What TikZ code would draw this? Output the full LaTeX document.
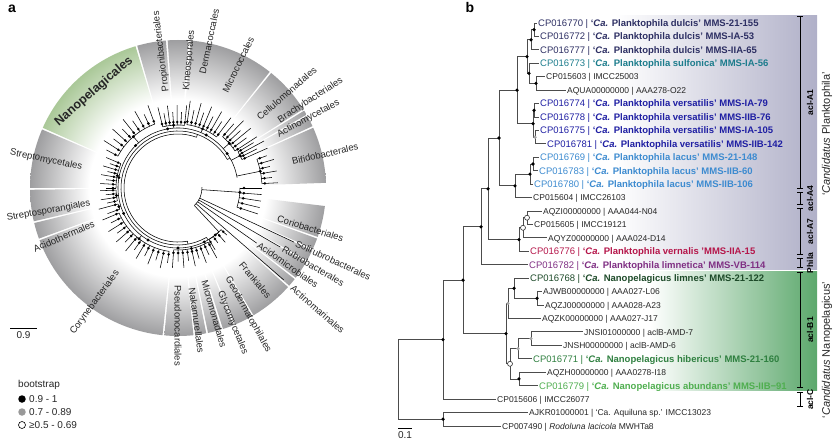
\documentclass[tikz,border=0pt]{standalone}
\usepackage{fontspec}
\setmainfont{Liberation Sans}
\usetikzlibrary{arrows.meta}

\definecolor{sectgray}{RGB}{158,158,160}
\definecolor{nanosect}{RGB}{170,200,152}
\definecolor{plankbg}{RGB}{176,176,200}
\definecolor{nanobg}{RGB}{92,168,108}
\definecolor{dulc}{RGB}{45,47,99}
\definecolor{sulf}{RGB}{28,124,140}
\definecolor{vers}{RGB}{31,31,163}
\definecolor{lacu}{RGB}{61,139,208}
\definecolor{vern}{RGB}{181,22,74}
\definecolor{limn}{RGB}{127,47,131}
\definecolor{nlim}{RGB}{29,74,41}
\definecolor{hibe}{RGB}{47,128,64}
\definecolor{abun}{RGB}{79,174,79}

\pgfdeclareradialshading{sectorfade}{\pgfpoint{0bp}{0bp}}{color(0bp)=(white); color(15bp)=(white); color(25bp)=(sectgray); color(50bp)=(sectgray)}
\pgfdeclareradialshading{nanofade}{\pgfpoint{0bp}{0bp}}{color(0bp)=(white); color(15bp)=(white); color(25bp)=(nanosect); color(50bp)=(nanosect)}

\newcommand{\caspec}[2]{\textbf{‘\textit{Ca.} #1’ #2}}

\tikzset{
  atree/.style={draw=black, line width=0.55pt},
  branch/.style={draw=black!70, line width=0.8pt},
  ordname/.style={inner sep=0pt, font=\fontsize{9.5}{11}\selectfont, text=black!85},
  leafname/.style={anchor=base west, inner sep=0pt, font=\fontsize{9.5}{11}\selectfont},
  accname/.style={anchor=base west, inner sep=0pt, font=\fontsize{8.5}{10}\selectfont, text=black!85},
  fulldot/.style={circle, fill=black, inner sep=0pt, minimum size=3.6pt},
  greydot/.style={circle, fill=black!35, inner sep=0pt, minimum size=3.6pt},
  opendot/.style={circle, draw=black!80, fill=white, line width=0.6pt, inner sep=0pt, minimum size=5pt},
  cladebar/.style={draw=black, line width=0.9pt, {Bar[width=6pt]}-{Bar[width=6pt]}},
  cladelab/.style={rotate=90, inner sep=0pt, font=\bfseries\fontsize{8.5}{10}\selectfont},
  candlab/.style={rotate=90, inner sep=0pt, font=\fontsize{11}{13}\selectfont, text=black!85},
  legtext/.style={inner sep=0pt, font=\fontsize{10}{12}\selectfont, text=black!85},
}

\begin{document}
\begin{tikzpicture}[x=1pt, y=-1pt]
\useasboundingbox (0,0) rectangle (834,443);

\node[font=\bfseries\fontsize{14}{14}\selectfont] (pa) at (12,9) {a};
\node[font=\bfseries\fontsize{14}{14}\selectfont] (pb) at (470,8) {b};

\begin{scope}[shift={(178,188)}, x=1pt, y=1pt]
  \foreach \a/\b in {2/24, 24.7/29, 29.7/31.5, 32.2/51, 51.7/85, 86/94, 94.7/106,
                     156.7/180, 180.7/193, 193.7/200, 200.7/264, 264.7/276, 276.7/281,
                     281.7/287, 287.7/292, 292.7/300, 300.7/318, 318.7/322, 322.7/330,
                     330.7/335, 335.7/340, 340.7/353}{
    \begin{scope}
      \clip (0,0) -- (\a:148) arc[start angle=\a, end angle=\b, radius=148] -- cycle;
      \shade[shading=sectorfade] (0,0) circle (148);
    \end{scope}
  }
  \begin{scope}
    \clip (0,0) -- (106.7:148) arc[start angle=106.7, end angle=156, radius=148] -- cycle;
    \shade[shading=nanofade] (0,0) circle (148);
  \end{scope}

  \draw[atree] (10:60) arc[start angle=10, end angle=313, radius=60];
  \draw[atree] (30:57) arc[start angle=30, end angle=300, radius=57];
  \draw[atree] (70:54) arc[start angle=70, end angle=280, radius=54];
  \draw[atree] (30:57) -- (30:60) (300:57) -- (300:60) (70:54) -- (70:57) (280:54) -- (280:57);
  \draw[atree] (313:60) -- (313:24);
  \draw[atree] (2:24) arc[start angle=2, end angle=-47, radius=24];
  \foreach \a in {35,62,100,135,170,205,240,270,296} \fill (\a:60) circle (1.6);

  \foreach \a/\b/\rb/\len/\n in {3/20/84/16/6, 24/31/70/28/4, 33/49/68/26/6, 53/82/64/24/9,
                                 84/104/63/20/7, 110/152/68/20/10, 157/180/62/16/8,
                                 182/192/62/16/4, 195/200/62/20/2, 203/262/64/18/14,
                                 266/299/62/18/9, 301/316/60/12/4}{
    \pgfmathsetmacro\gmid{(\a+\b)/2}
    \pgfmathsetmacro\gstep{(\b-\a)/(\n-1)}
    \draw[atree] (\gmid:60) -- (\gmid:\rb);
    \draw[atree] (\a:\rb) arc[start angle=\a, end angle=\b, radius=\rb];
    \foreach \i in {1,...,\n}{
      \pgfmathsetmacro\sang{\a+(\i-1)*\gstep}
      \pgfmathsetmacro\spk{\rb+\len*(0.65+0.35*mod(\i,2))}
      \draw[atree] (\sang:\rb) -- (\sang:\spk);
      \fill (\sang:{\rb+3}) circle (1.4);
    }
    \fill (\gmid:\rb) circle (1.6);
  }

  \draw[atree] (-4:24) -- (-4:62);
  \draw[atree] (0:62) arc[start angle=0, end angle=-18, radius=62];
  \foreach \a in {0,-4.5,-9,-13.5,-18}{
    \draw[atree] (\a:62) -- (\a:84);
    \fill (\a:66) circle (1.4);
  }
  \foreach \a/\r in {-25/128, -30/118, -35/96, -41/140} \draw[atree] (\a:24) -- (\a:\r);
  \fill (-4:62) circle (1.6);

  \foreach \a/\r/\t [count=\i] in {13/117/Bifidobacterales, 28/113/Actinomycetales,
      33.5/121/Brachybacteriales, 41/106/Cellulomonadales, 64/107/Micrococcales,
      78/117/Dermacoccales, 85/98/Kineosporales, 97/97/Propionibacteriales,
      270/97/Pseudonocardiales, 278/101/Nakamurellales, 286/96/Micromonadales,
      292/112/Glycomycetales, 299/102/Geodermatophilales, 310/98/Frankiales,
      319/151/Actinomarinales, 325/98/Acidomicrobiales, 330/121/Rubrobacterales,
      335/130/Solirubrobacterales, 343/104/Coriobacteriales}
    \node[ordname, anchor=west, rotate=\a] (ordR\i) at (\a:\r) {\t};
  \foreach \a/\r/\t [count=\i] in {168/98/Streptomycetales, 190/89/Streptosporangiales,
      203/91/Acidothermales, 234/103/Corynebacteriales}
    \node[ordname, anchor=east, rotate={\a-180}] (ordL\i) at (\a:\r) {\t};
  \node[inner sep=0pt, rotate=41, font=\bfseries\fontsize{12.5}{14}\selectfont, text=black!85] (nanoord) at (131:128) {Nanopelagicales};
\end{scope}

\coordinate (sa1) at (10,328);
\coordinate (sa2) at (37,328);
\draw[line width=0.8pt] (sa1) -- (sa2);
\node[legtext, anchor=north] (salab) at (23.5,331) {0.9};

\node[legtext, anchor=west] (bstitle) at (18,385) {bootstrap};
\node[fulldot, minimum size=7.5pt] (bs1) at (22,399) {};
\node[circle, fill=black!40, inner sep=0pt, minimum size=7.5pt] (bs2) at (22,412) {};
\node[circle, draw=black, fill=white, line width=0.6pt, inner sep=0pt, minimum size=7pt] (bs3) at (22,425) {};
\node[legtext, anchor=west] (bs1t) at (29,399) {0.9 - 1};
\node[legtext, anchor=west] (bs2t) at (29,412) {0.7 - 0.89};
\node[legtext, anchor=west] (bs3t) at (29,425) {≥0.5 - 0.69};

\shade[left color=white, right color=plankbg] (615,16) rectangle (817,270);
\shade[left color=white, right color=nanobg] (650,272) rectangle (817,390);

\foreach \k/\x in {1/538, 2/540, 3/540, 4/540, 5/546, 6/567, 7/540, 8/540, 9/540, 10/547,
                   11/540, 12/539, 13/534, 14/533, 15/543, 16/534, 17/548, 18/530, 19/529,
                   20/530, 21/543, 22/545, 23/542, 24/584, 25/563, 26/533, 27/547, 28/539,
                   29/497, 30/529, 31/502}
  \coordinate (L\k) at ({\x-1.5}, {23+(\k-1)*13.43});

\coordinate (n12) at (534,29.7);
\coordinate (n123) at (531,39.8);
\coordinate (n56) at (536,83.4);
\coordinate (n456) at (529,73.4);
\coordinate (nA) at (527,56.6);
\coordinate (n78) at (534,110.3);
\coordinate (n910) at (535,137.2);
\coordinate (nC) at (533,123.7);
\coordinate (nB) at (517,90.2);
\coordinate (n1112) at (533,164);
\coordinate (n1113) at (530,174.1);
\coordinate (nE) at (515,185.9);
\coordinate (nD) at (499,138);
\coordinate (n1516) at (527,217.7);
\coordinate (n1517) at (523,227.8);
\coordinate (nG) at (519,239.6);
\coordinate (nF) at (488,188.8);
\coordinate (nH) at (481,226.8);
\coordinate (n2122) at (537,298.3);
\coordinate (n2022) at (514,288.3);
\coordinate (nK) at (508,303.4);
\coordinate (nO) at (531,338.6);
\coordinate (nM) at (518,348.7);
\coordinate (nN) at (519,378.9);
\coordinate (nL) at (510,363.8);
\coordinate (nJ) at (506,333.6);
\coordinate (nI) at (463,280.2);
\coordinate (nP) at (443,339.6);
\coordinate (nQ) at (443,419.2);
\coordinate (root) at (398,379.4);

\foreach \p/\c in {n12/L1, n12/L2, n123/n12, n123/L3, n56/L5, n56/L6, n456/L4, n456/n56,
                   nA/n123, nA/n456, n78/L7, n78/L8, n910/L9, n910/L10, nC/n78, nC/n910,
                   nB/nA, nB/nC, n1112/L11, n1112/L12, n1113/n1112, n1113/L13, nE/n1113,
                   nE/L14, nD/nB, nD/nE, n1516/L15, n1516/L16, n1517/n1516, n1517/L17,
                   nG/n1517, nG/L18, nF/nD, nF/nG, nH/nF, nH/L19, n2122/L21, n2122/L22,
                   n2022/L20, n2022/n2122, nK/n2022, nK/L23, nO/L24, nO/L25, nM/nO, nM/L26,
                   nN/L27, nN/L28, nL/nM, nL/nN, nJ/nK, nJ/nL, nI/nH, nI/nJ, nP/nI, nP/L29,
                   nQ/L30, nQ/L31, root/nP, root/nQ}
  \draw[branch] (\p) |- (\c);

\foreach \n in {n12, n123, n56, n456, nA, n78, nC, nB, n1112, n1113, nE, nD, nG, nF, nH,
                n2122, n2022, nN, nJ, nI, nP, nQ}
  \node[fulldot] (d\n) at (\n) {};
\foreach \n in {n910, nK, nM, nO} \node[greydot] (d\n) at (\n) {};
\foreach \n in {n1516, n1517, nL} \node[opendot] (d\n) at (\n) {};

\foreach \k/\c/\t in {1/dulc/{CP016770 | \caspec{Planktophila dulcis}{MMS-21-155}},
    2/dulc/{CP016772 | \caspec{Planktophila dulcis}{MMS-IA-53}},
    3/dulc/{CP016777 | \caspec{Planktophila dulcis}{MMS-IIA-65}},
    4/sulf/{CP016773 | \caspec{Planktophila sulfonica}{MMS-IA-56}},
    7/vers/{CP016774 | \caspec{Planktophila versatilis}{MMS-IA-79}},
    8/vers/{CP016778 | \caspec{Planktophila versatilis}{MMS-IIB-76}},
    9/vers/{CP016775 | \caspec{Planktophila versatilis}{MMS-IA-105}},
    10/vers/{CP016781 | \caspec{Planktophila versatilis}{MMS-IIB-142}},
    11/lacu/{CP016769 | \caspec{Planktophila lacus}{MMS-21-148}},
    12/lacu/{CP016783 | \caspec{Planktophila lacus}{MMS-IIB-60}},
    13/lacu/{CP016780 | \caspec{Planktophila lacus}{MMS-IIB-106}},
    18/vern/{CP016776 | \textbf{‘\textit{Ca.} Planktophila vernalis ’MMS-IIA-15}},
    19/limn/{CP016782 | \caspec{Planktophila limnetica}{MMS-VB-114}},
    20/nlim/{CP016768 | \caspec{Nanopelagicus limnes}{MMS-21-122}},
    26/hibe/{CP016771 | \caspec{Nanopelagicus hibericus}{MMS-21-160}},
    28/abun/{CP016779 | \caspec{Nanopelagicus abundans}{MMS-IIB−91}}}
  \node[leafname, text=\c] (T\k) at ([xshift=1.5pt, yshift=-3.4pt]L\k) {\t};

\foreach \k/\t in {5/{CP015603 | IMCC25003}, 6/{AQUA00000000 | AAA278-O22},
    14/{CP015604 | IMCC26103}, 15/{AQZI00000000 | AAA044-N04}, 16/{CP015605 | IMCC19121},
    17/{AQYZ00000000 | AAA024-D14}, 21/{AJWB00000000 | AAA027-L06},
    22/{AQZJ00000000 | AAA028-A23}, 23/{AQZK00000000 | AAA027-J17},
    24/{JNSI01000000 | aclB-AMD-7}, 25/{JNSH00000000 | aclB-AMD-6},
    27/{AQZH00000000 | AAA0278-I18}, 29/{CP015606 | IMCC26077},
    30/{AJKR01000001 | ‘Ca. Aquiluna sp.’ IMCC13023},
    31/{CP007490 | \textit{Rodoluna lacicola} MWHTa8}}
  \node[accname] (T\k) at ([xshift=1.5pt, yshift=-3.2pt]L\k) {\t};

\foreach \t/\b/\lab [count=\i] in {16/189/acl-A1, 192/205/acl-A4, 208/255/acl-A7,
                                   258/268/Phila, 272/388/acl-B1, 392/407/acl-C}{
  \coordinate (bt\i) at (800,\t);
  \coordinate (bb\i) at (800,\b);
  \draw[cladebar] (bt\i) -- (bb\i);
  \node[cladelab] (bl\i) at (810,{(\t+\b)/2}) {\lab};
}
\node[candlab] (candP) at (827,134) {‘\textit{Candidatus} Planktophila’};
\node[candlab] (candN) at (827,350) {‘\textit{Candidatus} Nanopelagicus’};

\coordinate (sb1) at (398,428);
\coordinate (sb2) at (412,428);
\draw[line width=0.8pt] (sb1) -- (sb2);
\node[legtext, anchor=north] (sblab) at (405,431) {0.1};
\end{tikzpicture}
\end{document}
